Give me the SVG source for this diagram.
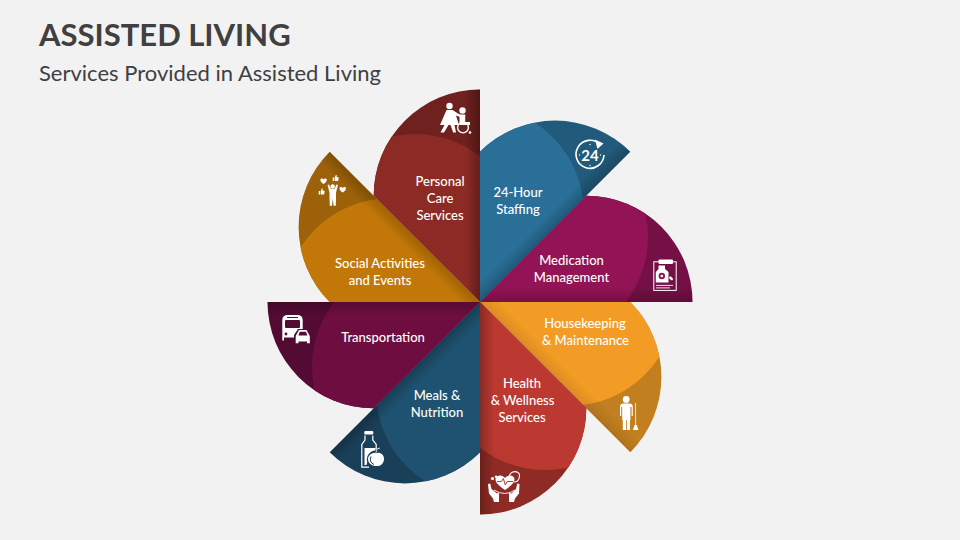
<svg xmlns="http://www.w3.org/2000/svg" xmlns:xlink="http://www.w3.org/1999/xlink" width="960" height="540" viewBox="0 0 960 540">
<style>
text{font-family:Lato,"Liberation Sans",sans-serif}
.title{font-size:31px;font-weight:700;fill:#404040}
.sub{font-size:22px;fill:#404040}
.lb{font-size:13px;fill:#fff;text-anchor:middle;font-weight:500}
.w{fill:#fff}
.o{fill:none;stroke:#fff}
</style>
<defs>
<path id="petal" d="M480 302L480 89.5A106.3 106.3 0 0 0 373.7 195.8Z"/>
<clipPath id="pc"><use href="#petal"/></clipPath>
<linearGradient id="edge" x1="0" x2="1" y1="0" y2="0">
<stop offset="0" stop-color="#000" stop-opacity="0"/>
<stop offset="1" stop-color="#000" stop-opacity=".32"/>
</linearGradient>
<g id="strip"><rect x="466" y="89" width="14" height="213" fill="url(#edge)" clip-path="url(#pc)"/></g>
<path id="heart" d="M0 3.2C-1.5 2-3.2.8-3.2-.9C-3.2-2.4-1-2.8 0-1.2C1-2.8 3.2-2.4 3.2-.9C3.2.8 1.5 2 0 3.2Z"/>
<path id="thumb" d="M-3-.5H-1.6V3H-3ZM-1 -.5L.2-3H1V-.8H3L2.5 3H-1Z"/>
</defs>
<rect width="960" height="540" fill="#f2f2f2"/>
<text class="title" x="39" y="46">ASSISTED LIVING</text>
<text class="sub" x="39" y="81">Services Provided in Assisted Living</text>

<g id="connectors"/>

<g id="personal-care">
<g><use href="#petal" fill="#6e211e"/><circle cx="415" cy="240" r="106" fill="#8c2b26" clip-path="url(#pc)"/><use href="#strip" opacity=".9"/></g>
<g class="w">
<circle cx="449.5" cy="106" r="3.2"/>
<path d="M446.5 110H452.5L458 113.5L465 117L464 118.5L456 115.5L459 125H454.5L456 132.5H453.2L450.5 125H448.5L444 132.5H440.5L444.5 125H440Z"/>
<circle cx="462.5" cy="110.5" r="3.2"/>
<path d="M459.5 114.5H465.2V122H470V125H459.5Z"/>
<circle class="o" cx="463" cy="127.5" r="5.4" stroke-width="1.4"/>
<circle cx="470" cy="132.5" r="1.3"/>
</g>
<text class="lb" x="440" y="186">Personal</text><text class="lb" x="440" y="203">Care</text><text class="lb" x="440" y="220">Services</text>
</g>

<g id="staffing">
<g transform="rotate(45 480 302)"><use href="#petal" fill="#215a7a"/><circle cx="415" cy="240" r="106" fill="#2a6f97" clip-path="url(#pc)"/><use href="#strip" opacity=".6"/></g>
<path class="o" stroke-width="1.6" d="M600 144.5A14 14 0 1 0 604 155"/>
<path class="w" d="M595 139.5L603.5 143.5L597.5 149Z"/>
<g class="w"><circle cx="590" cy="144.5" r=".7"/><circle cx="590" cy="165.5" r=".7"/><circle cx="579.5" cy="155" r=".7"/><circle cx="600.5" cy="155" r=".7"/></g>
<text x="590" y="160.5" font-size="15" font-weight="700" fill="#fff" text-anchor="middle">24</text>
<text class="lb" x="518" y="197">24-Hour</text><text class="lb" x="518" y="214">Staffing</text>
</g>

<g id="medication">
<g transform="rotate(90 480 302)"><use href="#petal" fill="#741045"/><circle cx="415" cy="240" r="106" fill="#921456" clip-path="url(#pc)"/><use href="#strip" opacity=".6"/></g>
<rect class="o" x="653.8" y="261.8" width="22.4" height="28.6" stroke-width="1"/>
<rect class="w" x="658.5" y="259.5" width="14.5" height="4.5" rx="1"/>
<path class="w" d="M658.5 265.5H665V269L668.5 272V282.5H655.8V272L658.5 269Z"/>
<circle cx="661.8" cy="276" r="3.2" fill="#921456"/><circle class="w" cx="661.8" cy="276" r="1.3"/>
<rect class="w" x="669" y="277" width="4.5" height="2.4" rx="1.2" transform="rotate(45 671 278)"/>
<path class="o" stroke-width=".9" d="M656 285.4H673M656 287.9H670"/>
<text class="lb" x="571.5" y="265">Medication</text><text class="lb" x="571.5" y="282">Management</text>
</g>

<g id="housekeeping">
<g transform="rotate(135 480 302)"><use href="#petal" fill="#c27f20"/><circle cx="415" cy="240" r="106" fill="#f39c25" clip-path="url(#pc)"/><use href="#strip" opacity=".3"/></g>
<circle class="w" cx="626.2" cy="399.5" r="3.4"/>
<path class="w" d="M620 407Q620 403.5 623 403.5H629.5Q632.8 403.5 632.8 407V416H631.6V407H630.4V420H630V430H626.8V420H626V430H622.8V420H622.2V407H621.2V416H620Z"/>
<path class="o" stroke-width=".8" d="M635.6 403V425"/>
<path class="w" d="M634.6 425H636.8L638.4 430H632.9Z"/>
<text class="lb" x="585" y="328">Housekeeping</text><text class="lb" x="585.5" y="345">&amp; Maintenance</text>
</g>

<g id="health">
<g transform="rotate(180 480 302)"><use href="#petal" fill="#8f2b25"/><circle cx="415" cy="240" r="106" fill="#bb3930" clip-path="url(#pc)"/><use href="#strip" opacity=".8"/></g>
<path class="w" d="M505 490C500 486.5 495.5 483 495.5 479.5C495.5 474.8 502.5 474 505 478C507.5 474 514.5 474.8 514.5 479.5C514.5 483 510 486.5 505 490Z"/>
<path fill="none" stroke="#bb3930" stroke-width="1" d="M497 481.5H501.5L503.3 478.5L505.3 485L507.2 481.5H513"/>
<path class="o" stroke-width="1.1" d="M514 482C520 482 520.5 474 518 472.5C515 470.5 510 472 509.5 476"/>
<circle class="w" cx="492.5" cy="478.5" r="1.6"/><circle class="w" cx="496" cy="476.8" r="1.2"/>
<path class="w" d="M488 484L490.2 483.5L491.5 489L497 493.5L499 492.5V502H494L493 498.5L489 493.5Z"/>
<path class="w" d="M519.5 484L517.3 483.5L516 489L511.5 493.5L509 492.5V502H514L515 498.5L519 493.5Z"/>
<path class="o" stroke-width=".9" d="M494 490Q505 497 515 490"/>
<text class="lb" x="522" y="388">Health</text><text class="lb" x="522.5" y="405">&amp; Wellness</text><text class="lb" x="522" y="422">Services</text>
</g>

<g id="meals">
<g transform="rotate(225 480 302)"><use href="#petal" fill="#1a4059"/><circle cx="415" cy="240" r="106" fill="#1f5270" clip-path="url(#pc)"/><use href="#strip" opacity=".7"/></g>
<rect class="w" x="364.3" y="431" width="9" height="3.6" rx="1"/>
<path class="o" stroke-width="1.2" d="M365 435.5V440L361.8 444.5V467.2H369M372.8 435.5V440L376.2 444.5V449"/>
<path class="w" d="M364.5 448H375.5V453L369 456L366.5 465H364.5Z"/>
<circle cx="376" cy="459.5" r="9.2" fill="#1a4059"/>
<path class="w" d="M375.7 453.2C379 451.6 384 453.5 384 459C384 463.5 380.5 466.5 376.5 466C373 466.5 368.5 464 368 459.5C368 455 372 452.5 375.7 453.2Z"/>
<path d="M371 456.5Q368.6 462 374 464.5" fill="none" stroke="#1a4059" stroke-width="1"/>
<path class="o" stroke-width=".8" d="M375.8 453L377 449L380 448"/>
<text class="lb" x="437" y="400">Meals &amp;</text><text class="lb" x="437" y="417">Nutrition</text>
</g>

<g id="transportation">
<g transform="rotate(270 480 302)"><use href="#petal" fill="#540b33"/><circle cx="415" cy="240" r="106" fill="#6e0e40" clip-path="url(#pc)"/><use href="#strip" opacity=".6"/></g>
<path class="w" d="M288 315H297Q302.7 315 302.7 320V337.5H284V340.5H282.3V320Q282.3 315 288 315Z"/>
<rect x="285" y="320" width="15" height="8" rx="1" fill="#540b33"/>
<rect x="287" y="317" width="11" height="1" fill="#540b33"/>
<circle cx="286" cy="334" r="1.4" fill="#540b33"/>
<path d="M298 329H307L311 335V345H294V335Z" fill="#540b33"/>
<path class="w" d="M299 330H306.5L309.8 336V343.3H307V341.5H298.5V343.3H295.7V336Z"/>
<path fill="#540b33" d="M299.8 331.8H306L307.4 335.5H298.4Z"/>
<text class="lb" x="383" y="342">Transportation</text>
</g>

<g id="social">
<g transform="rotate(315 480 302)"><use href="#petal" fill="#9c6109"/><circle cx="415" cy="240" r="106" fill="#c27808" clip-path="url(#pc)"/><use href="#strip" opacity=".55"/></g>
<circle class="w" cx="332.7" cy="186.5" r="2.2"/>
<path class="w" d="M327.5 185L329 184.5L331 189H334.5L336.5 184.5L338 185L336 192.5V197L335.8 205.7H333.6L332.8 198.5L332 205.7H329.8L329.5 197V192.5Z"/>
<use class="w" href="#heart" x="323.6" y="180.8"/>
<use class="w" href="#heart" x="342.7" y="189.3"/>
<use class="w" href="#thumb" x="335.7" y="178"/>
<use class="w" href="#thumb" x="321.7" y="191.5"/>
<text class="lb" x="380" y="268">Social Activities</text><text class="lb" x="380" y="285">and Events</text>
</g>
</svg>
